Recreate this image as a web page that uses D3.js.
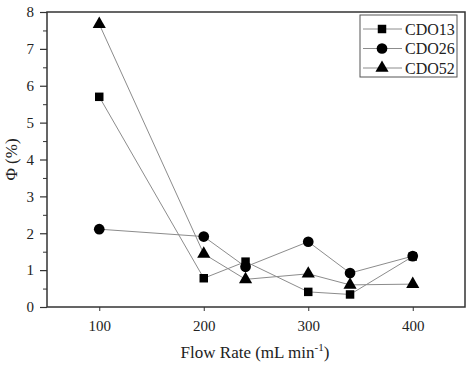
<!DOCTYPE html>
<html>
<head>
<meta charset="utf-8">
<script src="https://cdn.jsdelivr.net/npm/d3@7"></script>
<style>
  body { margin: 0; background: #fff; }
  svg text { font-family: "Liberation Serif", "Times New Roman", serif !important; fill: #222; }
</style>
</head>
<body>
<div id="chart-area"></div>
<script>
const flowRates = [100, 200, 240, 300, 340, 400];
const cdo13 = [5.70, 0.78, 1.23, 0.41, 0.34, 1.37];
const cdo26 = [2.11, 1.91, 1.09, 1.77, 0.92, 1.38];
const cdo52 = [7.67, 1.44, 0.75, 0.90, 0.60, 0.62];
const seriesNames = ["CDO13", "CDO26", "CDO52"];
const xTicks = [100, 200, 300, 400];
const yTicks = [0, 1, 2, 3, 4, 5, 6, 7, 8];

const width = 474;
const height = 365;
const margin = { top: 12, right: 9, bottom: 58, left: 47 };

const svg = d3
  .select("#chart-area")
  .append("svg")
  .attr("width", width)
  .attr("height", height);

const x = d3
  .scaleLinear()
  .domain([50, 450])
  .range([margin.left, width - margin.right]);

const y = d3
  .scaleLinear()
  .domain([0, 8])
  .range([height - margin.bottom, margin.top]);

const series = [
  { name: seriesNames[0], values: cdo13, shape: d3.symbolSquare, size: 72 },
  { name: seriesNames[1], values: cdo26, shape: d3.symbolCircle, size: 90 },
  { name: seriesNames[2], values: cdo52, shape: d3.symbolTriangle, size: 75 },
];

// frame
svg
  .append("rect")
  .attr("x", margin.left)
  .attr("y", margin.top)
  .attr("width", width - margin.right - margin.left)
  .attr("height", height - margin.bottom - margin.top)
  .attr("fill", "none")
  .attr("stroke", "#333")
  .attr("stroke-width", 1.5);

// y axis, minor ticks every 0.5
svg
  .append("g")
  .attr("transform", `translate(${margin.left},0)`)
  .call(d3.axisLeft(y).tickValues(d3.range(0.5, 8, 1)).tickSize(4).tickFormat(""))
  .call((g) => g.select(".domain").remove())
  .call((g) => g.selectAll("line").attr("stroke", "#333"));

svg
  .append("g")
  .attr("transform", `translate(${margin.left},0)`)
  .call(d3.axisLeft(y).tickValues(yTicks).tickSize(7).tickPadding(6))
  .call((g) => g.select(".domain").remove())
  .call((g) => g.selectAll("line").attr("stroke", "#333").attr("stroke-width", 1.2))
  .call((g) => g.selectAll("text").attr("font-size", 15).attr("fill", "#222"));

// x axis
svg
  .append("g")
  .attr("transform", `translate(0,${height - margin.bottom})`)
  .call(d3.axisBottom(x).tickValues(xTicks).tickSize(4).tickPadding(9))
  .call((g) => g.select(".domain").remove())
  .call((g) => g.selectAll("line").attr("stroke", "#333"))
  .call((g) => g.selectAll("text").attr("font-size", 15).attr("fill", "#222"));

// lines
const line = d3
  .line()
  .x((d, i) => x(flowRates[i]))
  .y((d) => y(d));

svg
  .append("g")
  .selectAll("path")
  .data(series)
  .join("path")
  .attr("d", (d) => line(d.values))
  .attr("fill", "none")
  .attr("stroke", "#8c8c8c")
  .attr("stroke-width", 1);

// markers
series.forEach((s) => {
  svg
    .append("g")
    .selectAll("path")
    .data(s.values)
    .join("path")
    .attr("transform", (d, i) => `translate(${x(flowRates[i])},${y(d)})`)
    .attr("d", d3.symbol().type(s.shape).size(s.size))
    .attr("fill", "#000");
});

// legend
const legend = svg.append("g").attr("transform", "translate(360,15)");
legend
  .append("rect")
  .attr("width", 97)
  .attr("height", 62)
  .attr("fill", "#fff")
  .attr("stroke", "#555")
  .attr("stroke-width", 1);

const item = legend
  .selectAll("g")
  .data(series)
  .join("g")
  .attr("transform", (d, i) => `translate(0,${14 + i * 19.5})`);

item
  .append("line")
  .attr("x1", 3)
  .attr("x2", 42)
  .attr("stroke", "#8c8c8c");

item
  .append("path")
  .attr("transform", "translate(22,0)")
  .attr("d", (d) => d3.symbol().type(d.shape).size(d.size)())
  .attr("fill", "#000");

item
  .append("text")
  .attr("x", 45)
  .attr("y", 5.5)
  .attr("font-size", 16)
  .text((d) => d.name);

// axis titles
const xTitle = svg
  .append("text")
  .attr("x", 255)
  .attr("y", 358)
  .attr("text-anchor", "middle")
  .attr("font-size", 17);
xTitle.append("tspan").text("Flow Rate (mL min");
xTitle.append("tspan").attr("dy", -7).attr("font-size", 11).text("-1");
xTitle.append("tspan").attr("dy", 7).text(")");

svg
  .append("text")
  .attr("transform", `translate(17,${(margin.top + height - margin.bottom) / 2}) rotate(-90)`)
  .attr("text-anchor", "middle")
  .attr("font-size", 17)
  .text("Φ (%)");
</script>
</body>
</html>
